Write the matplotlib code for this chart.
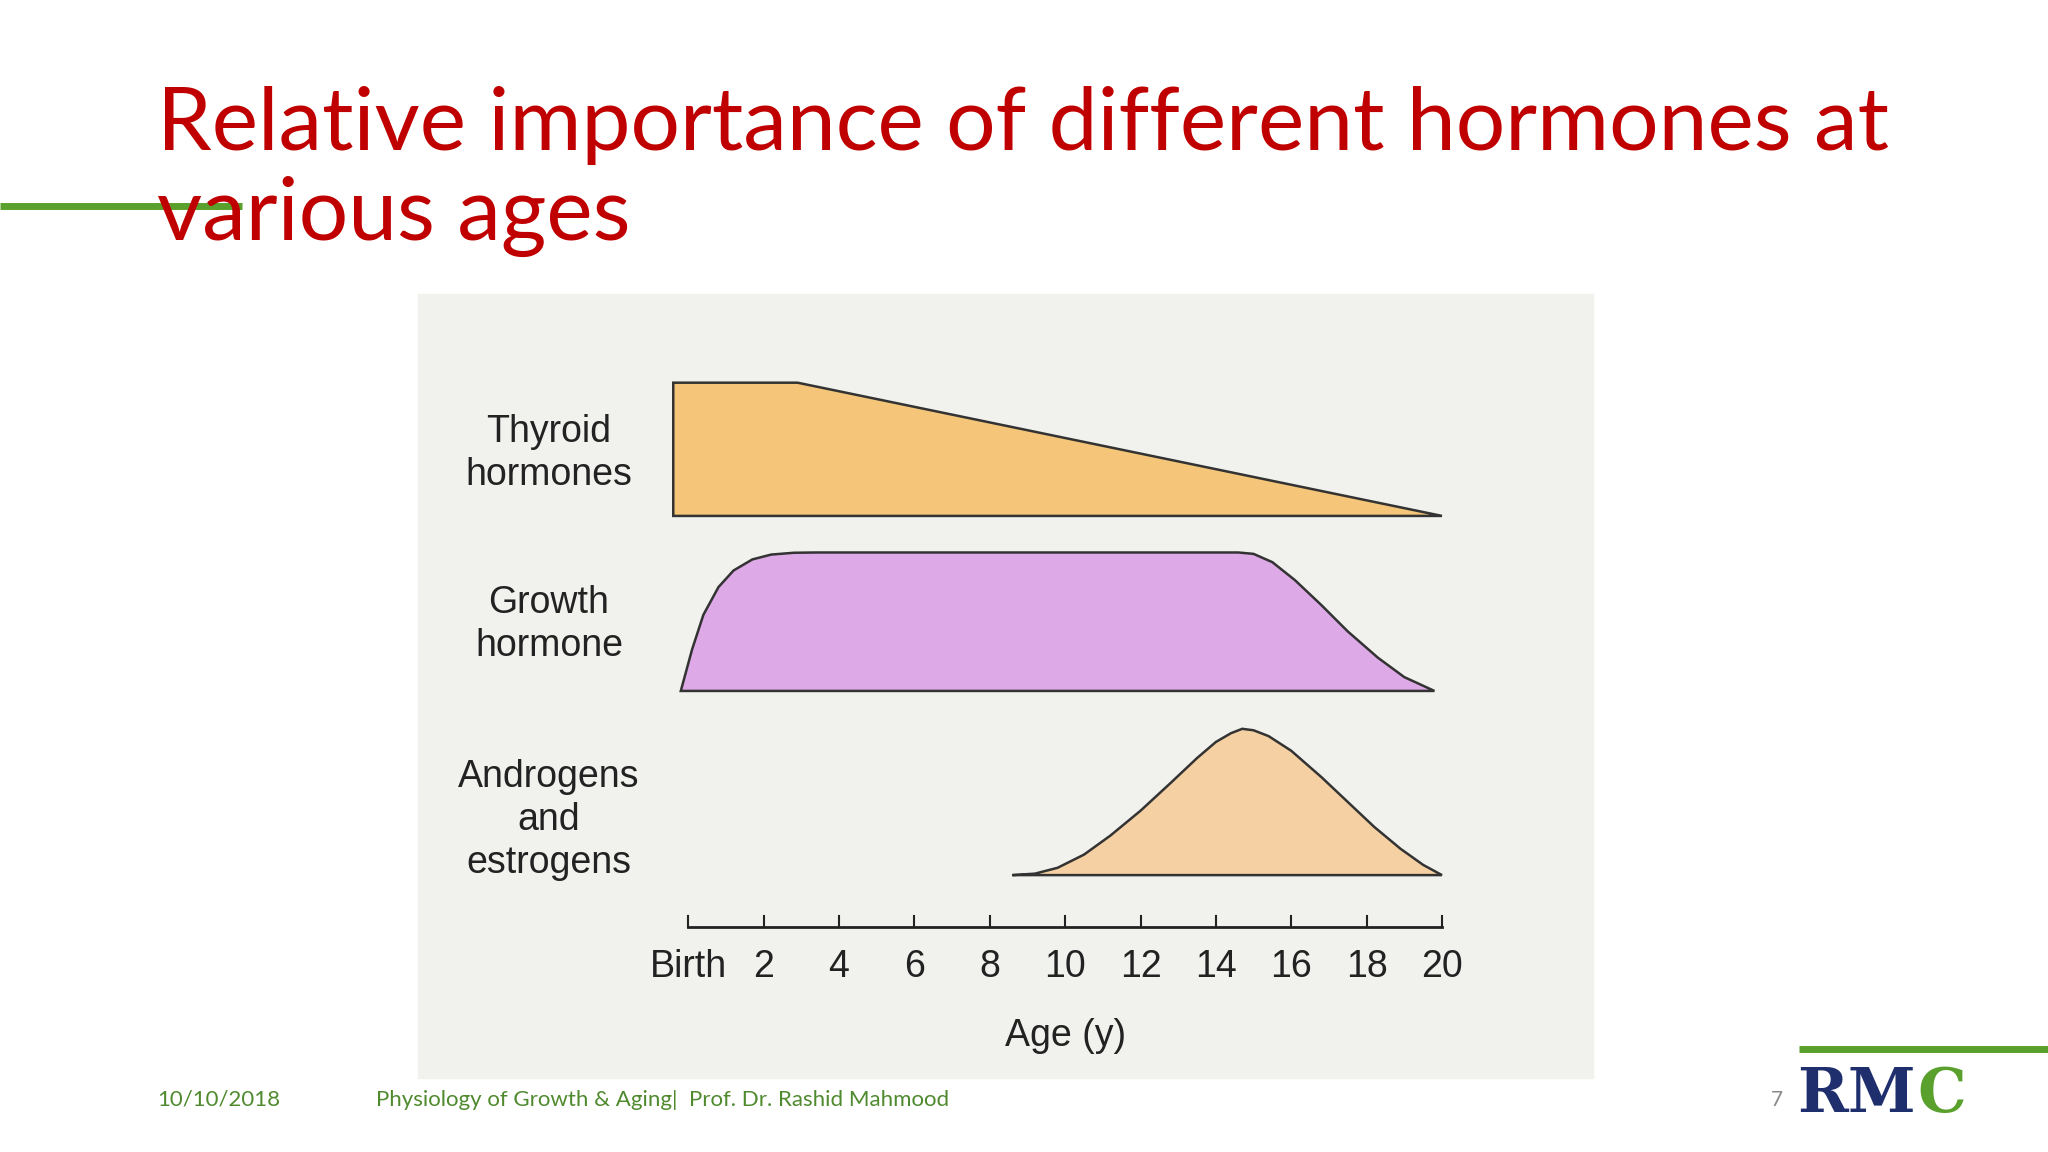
import matplotlib
matplotlib.use("Agg")
import matplotlib.pyplot as plt
import numpy as np

# ---- data ----
tick_labels = ["Birth", "2", "4", "6", "8", "10", "12", "14", "16", "18", "20"]
tick_ages = [0, 2, 4, 6, 8, 10, 12, 14, 16, 18, 20]
hormones = ["Thyroid\nhormones", "Growth\nhormone", "Androgens\nand\nestrogens"]
thyroid_age = [-0.4, 2.9, 20.0]
thyroid_lvl = [1.0, 1.0, 0.0]
growth_age = [-0.2, 0.1, 0.4, 0.8, 1.2, 1.7, 2.2, 2.8, 3.4, 14.6, 15.0, 15.5, 16.1, 16.8, 17.5, 18.3, 19.0, 19.8]
growth_lvl = [0.0, 0.3, 0.55, 0.75, 0.87, 0.95, 0.985, 0.998, 1.0, 1.0, 0.99, 0.93, 0.8, 0.62, 0.43, 0.24, 0.1, 0.0]
andro_age = [8.6, 9.2, 9.8, 10.5, 11.2, 12.0, 12.8, 13.5, 14.0, 14.4, 14.7, 15.0, 15.4, 16.0, 16.8, 17.5, 18.2, 18.9, 19.5, 20.0]
andro_lvl = [0.0, 0.01, 0.05, 0.14, 0.27, 0.44, 0.63, 0.8, 0.91, 0.97, 1.0, 0.99, 0.95, 0.85, 0.67, 0.5, 0.33, 0.18, 0.07, 0.0]

W, H = 1568, 882
fig = plt.figure(figsize=(20.48, 11.52), dpi=100)
bg = fig.add_axes([0, 0, 1, 1])
bg.set_xlim(0, W); bg.set_ylim(H, 0); bg.axis("off")

bg.add_patch(plt.Rectangle((320, 225), 900, 600, color="#f1f1ee", zorder=0))

tc = "#C00000"
bg.text(120, 96, "Relative importance of different hormones at", color=tc,
        fontsize=63, family="Lato", va="center", ha="left")
bg.text(120, 166, "various ages", color=tc, fontsize=63, family="Lato", va="center", ha="left")
bg.plot([0, 185], [158, 158], color="#5AA02C", lw=5, solid_capstyle="butt")
bg.plot([1377, 1568], [803, 803], color="#5AA02C", lw=5, solid_capstyle="butt")

fc = "#4F8A2E"
bg.text(120, 842, "10/10/2018", color=fc, fontsize=16, family="Lato", va="center")
bg.text(288, 842, "Physiology of Growth & Aging|  Prof. Dr. Rashid Mahmood", color=fc, fontsize=16,
        family="Lato", va="center")
bg.text(1356, 842, "7", color="#888888", fontsize=15, family="Lato", va="center")
bg.text(1376, 838, "RM", color="#1F2F6E", fontsize=44, fontweight="heavy", family="DejaVu Serif",
        va="center", ha="left")
bg.text(1468, 838, "C", color="#5AA02C", fontsize=44, fontweight="heavy", family="DejaVu Serif",
        va="center", ha="left")

ax = fig.add_axes([0, 0, 1, 1])
ax.patch.set_alpha(0)
ppy = (1104 - 527) / 20.0
ax.set_xlim(-527 / ppy, (W - 527) / ppy)
ax.set_ylim(H, 0)
ax.axis("off")

bands = [(395, 102, thyroid_age, thyroid_lvl, "#F5C679"),
         (529, 106, growth_age, growth_lvl, "#DDA9E6"),
         (670, 112, andro_age, andro_lvl, "#F5D0A3")]
label_y = [347, 478, 628]
for (base, h, a, l, c), name, ly in zip(bands, hormones, label_y):
    a = np.array(a); l = np.array(l)
    y = base - l * h
    ax.fill(np.r_[a, a[::-1][[0, -1]]], np.r_[y, [base, base]], color=c, ec="#333333", lw=1.8)
    ax.text(-3.7, ly, name, ha="center", va="center", fontsize=27, color="#222222",
            family="Liberation Sans", linespacing=1.25)

ax.plot([0, 20], [710, 710], color="#222222", lw=2)
for t, lab in zip(tick_ages, tick_labels):
    ax.plot([t, t], [710, 701], color="#222222", lw=1.5)
    ax.text(t, 740, lab, ha="center", va="center", fontsize=27, color="#222222", family="Liberation Sans")
ax.text(10, 793, "Age (y)", ha="center", va="center", fontsize=27, color="#222222", family="Liberation Sans")

fig.savefig("out.png", dpi=100)
